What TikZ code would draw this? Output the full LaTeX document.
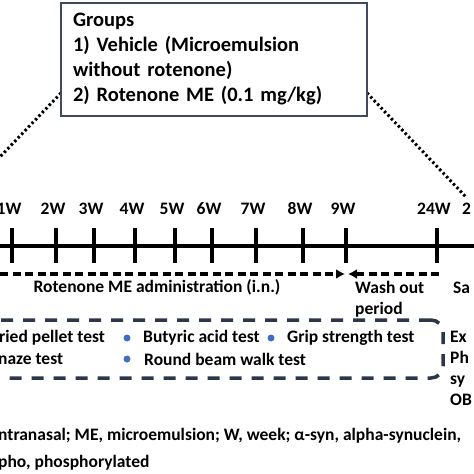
\documentclass[tikz,border=0pt]{standalone}
\usepackage{fontspec}
\setmainfont{Carlito}
\usetikzlibrary{arrows.meta,positioning}
\definecolor{boxslate}{RGB}{62,74,94}
\definecolor{dashnavy}{RGB}{44,54,74}
\definecolor{dotblue}{RGB}{68,110,190}
\tikzset{
	grpbox/.style  = {rectangle,draw=boxslate,line width=2.8pt,fill=white,
		minimum width=306pt,minimum height=113pt,text width=282pt,
		align=left,font=\fontsize{20.5}{25}\selectfont\bfseries},
	zoomline/.style= {line width=3pt,dash pattern=on 2.4pt off 2.6pt},
	axisline/.style= {line width=3.5pt},
	tickmark/.style= {line width=4pt},
	wklabel/.style = {inner sep=0pt,font=\fontsize{17.5}{21}\selectfont\bfseries},
	txt/.style     = {inner sep=0pt,align=left,font=\fontsize{17.5}{21}\selectfont\bfseries},
	darr/.style    = {line width=3.2pt,dash pattern=on 8pt off 4.5pt,
		-{Latex[length=9pt,width=10pt]}},
	testbox/.style = {rectangle,rounded corners=12pt,draw=dashnavy,line width=3.5pt,
		dash pattern=on 12pt off 10pt,minimum width=463pt,minimum height=58pt},
	bul/.style     = {circle,fill=dotblue,inner sep=0pt,minimum size=7pt},
}
\begin{document}
\begin{tikzpicture}[x=1pt,y=-1pt]
	\useasboundingbox (0,0) rectangle (474,474);
	\clip (0,0) rectangle (474,474);
	
	%% Zoom lines behind the group box
	\coordinate (gl) at (61,93);
	\coordinate (gr) at (367,93);
	\coordinate (zl) at (-2,159);
	\coordinate (zr) at (466,197);
	\draw[zoomline] (gl) -- (zl);
	\draw[zoomline] (gr) -- (zr);
	
	%% Groups
	\node (groups) [grpbox] at (214,59.5)
	{Groups\\1) Vehicle (Microemulsion\\without rotenone)\\2) Rotenone ME (0.1 mg/kg)};
	
	%% Timeline
	\coordinate (a0) at (0,246);
	\coordinate (a1) at (474,246);
	\draw[axisline] (a0) -- (a1);
	\foreach \x/\w in {12/1,56/2,94/3,135/4,175/5,212/6,256/7,303/8,346/9,437/24}{
		\coordinate (t\w) at (\x,246);
		\draw[tickmark] (\x,228) -- (\x,263);
		\node (w\w) [wklabel] at (\x-3,209) {\w W};
	}
	\node (w25) [wklabel,anchor=west] at (462,209) {2};
	
	%% Periods
	\coordinate (adm) at (0,274);
	\draw[darr] (adm) -- ([xshift=-1pt]t9 |- adm);
	\draw[darr,{Latex[length=9pt,width=10pt]}-] ([xshift=2pt]t9 |- adm) -- ([xshift=2pt]t24 |- adm);
	\node (admtxt) [txt] at (157,287) {Rotenone ME administration (i.n.)};
	\node (wash) [txt,anchor=west] at (355,299) {Wash out\\period};
	\node (sac) [txt,anchor=west] at (453,288) {Sa};
	
	%% Behavioural tests
	\node (tests) [testbox] at (211.5,349) {};
	\node (pellet) [txt,anchor=west] at (-1,338) {ried pellet test};
	\node (maze)   [txt,anchor=west] at (-2,359) {naze test};
	\node (b1) [bul] at (127,338) {};
	\node (b2) [bul] at (127,359) {};
	\node (b3) [bul] at (271,338) {};
	\node (butyr) [txt,anchor=west] at (143,338) {Butyric acid test};
	\node (grip)  [txt,anchor=west] at (287,338) {Grip strength test};
	\node (beam)  [txt,anchor=west] at (144,359) {Round beam walk test};
	\node (exp) [txt,anchor=west] at (450,368) {Ex\\Ph\\sy\\OB};
	
	%% Abbreviations
	\node (abbr) [txt,anchor=west,font=\fontsize{17.5}{27}\selectfont\bfseries] at (-2,449)
	{ntranasal; ME, microemulsion; W, week; α-syn, alpha-synuclein,\\pho, phosphorylated};
\end{tikzpicture}
\end{document}
